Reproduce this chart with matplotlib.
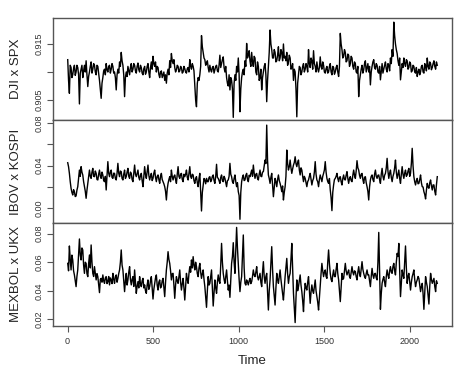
import matplotlib
matplotlib.use("Agg")
import matplotlib.pyplot as plt
import numpy as np

plt.rcParams["font.family"] = ["Liberation Sans", "DejaVu Sans"]

# correlaciones (una cada ~10 dias)
dji_spx = [
    0.9122, 0.9062, 0.9108, 0.9095, 0.9112, 0.9100, 0.9108, 0.9043, 0.9105, 0.9090,
    0.9112, 0.9120, 0.9074, 0.9100, 0.9118, 0.9105, 0.9112, 0.9095, 0.9110, 0.9085,
    0.9053, 0.9090, 0.9105, 0.9115, 0.9100, 0.9112, 0.9105, 0.9110, 0.9100, 0.9068,
    0.9105, 0.9118, 0.9135, 0.9112, 0.9056, 0.9100, 0.9110, 0.9095, 0.9115, 0.9105,
    0.9112, 0.9098, 0.9116, 0.9100, 0.9108, 0.9095, 0.9110, 0.9100, 0.9115, 0.9090,
    0.9118, 0.9128, 0.9110, 0.9100, 0.9108, 0.9090, 0.9102, 0.9095, 0.9085, 0.9080,
    0.9105, 0.9120, 0.9133, 0.9115, 0.9108, 0.9104, 0.9110, 0.9102, 0.9108, 0.9100,
    0.9106, 0.9098, 0.9108, 0.9122, 0.9105, 0.9110, 0.9075, 0.9038, 0.9090, 0.9095,
    0.9165, 0.9135, 0.9122, 0.9115, 0.9108, 0.9112, 0.9100, 0.9110, 0.9104, 0.9112,
    0.9100, 0.9130, 0.9115, 0.9127, 0.9100, 0.9090, 0.9075, 0.9068, 0.9085, 0.9019,
    0.9095, 0.9110, 0.9125, 0.9029, 0.9090, 0.9105, 0.9120, 0.9151, 0.9130, 0.9120,
    0.9135, 0.9110, 0.9125, 0.9095, 0.9110, 0.9090, 0.9068, 0.9100, 0.9115, 0.9047,
    0.9110, 0.9175, 0.9140, 0.9125, 0.9135, 0.9120, 0.9145, 0.9125, 0.9135, 0.9150,
    0.9128, 0.9135, 0.9118, 0.9125, 0.9108, 0.9085, 0.9100, 0.9020, 0.9095, 0.9108,
    0.9100, 0.9115, 0.9105, 0.9110, 0.9140, 0.9108, 0.9120, 0.9138, 0.9110, 0.9118,
    0.9100, 0.9127, 0.9105, 0.9112, 0.9098, 0.9110, 0.9100, 0.9115, 0.9095, 0.9108,
    0.9100, 0.9112, 0.9092, 0.9169, 0.9140, 0.9128, 0.9135, 0.9120, 0.9130, 0.9115,
    0.9125, 0.9105, 0.9115, 0.9098, 0.9056, 0.9095, 0.9112, 0.9104, 0.9120, 0.9108,
    0.9100, 0.9077, 0.9110, 0.9122, 0.9105, 0.9112, 0.9098, 0.9086, 0.9115, 0.9105,
    0.9118, 0.9100, 0.9112, 0.9125, 0.9140, 0.9189, 0.9150, 0.9133, 0.9112, 0.9086,
    0.9115, 0.9125, 0.9110, 0.9120, 0.9108, 0.9115, 0.9102, 0.9110, 0.9098, 0.9092,
    0.9105, 0.9100, 0.9112, 0.9098, 0.9110, 0.9125, 0.9105, 0.9115, 0.9108, 0.9120,
    0.9105, 0.9112,
]
# valores entre cada par de los anteriores (borde opuesto de la banda de ruido)
dji_spx_medio = [
    0.9085, 0.9112, 0.9090, 0.9106, 0.9094, 0.9112, 0.9095, 0.9098, 0.9112, 0.9102,
    0.9100, 0.9095, 0.9092, 0.9110, 0.9098, 0.9115, 0.9100, 0.9112, 0.9098, 0.9070,
    0.9080, 0.9102, 0.9095, 0.9104, 0.9110, 0.9098, 0.9115, 0.9098, 0.9090, 0.9095,
    0.9098, 0.9110, 0.9120, 0.9095, 0.9090, 0.9092, 0.9102, 0.9108, 0.9100, 0.9115,
    0.9102, 0.9110, 0.9104, 0.9112, 0.9098, 0.9106, 0.9096, 0.9110, 0.9100, 0.9108,
    0.9105, 0.9115, 0.9118, 0.9110, 0.9096, 0.9100, 0.9090, 0.9100, 0.9095, 0.9098,
    0.9095, 0.9108, 0.9120, 0.9122, 0.9100, 0.9112, 0.9100, 0.9110, 0.9098, 0.9110,
    0.9100, 0.9106, 0.9100, 0.9110, 0.9115, 0.9102, 0.9050, 0.9080, 0.9085, 0.9110,
    0.9145, 0.9125, 0.9112, 0.9120, 0.9100, 0.9104, 0.9108, 0.9098, 0.9110, 0.9102,
    0.9112, 0.9108, 0.9122, 0.9108, 0.9110, 0.9080, 0.9095, 0.9090, 0.9070, 0.9080,
    0.9085, 0.9100, 0.9095, 0.9070, 0.9100, 0.9095, 0.9110, 0.9125, 0.9138, 0.9110,
    0.9118, 0.9128, 0.9100, 0.9118, 0.9085, 0.9105, 0.9090, 0.9110, 0.9095, 0.9085,
    0.9135, 0.9150, 0.9125, 0.9140, 0.9118, 0.9130, 0.9120, 0.9140, 0.9120, 0.9125,
    0.9120, 0.9112, 0.9130, 0.9105, 0.9115, 0.9105, 0.9070, 0.9080, 0.9110, 0.9095,
    0.9110, 0.9100, 0.9115, 0.9100, 0.9115, 0.9125, 0.9105, 0.9115, 0.9100, 0.9106,
    0.9108, 0.9110, 0.9118, 0.9100, 0.9106, 0.9098, 0.9110, 0.9100, 0.9110, 0.9096,
    0.9108, 0.9100, 0.9110, 0.9150, 0.9125, 0.9140, 0.9118, 0.9132, 0.9110, 0.9128,
    0.9110, 0.9118, 0.9100, 0.9110, 0.9085, 0.9105, 0.9098, 0.9115, 0.9100, 0.9115,
    0.9110, 0.9100, 0.9118, 0.9108, 0.9115, 0.9100, 0.9110, 0.9100, 0.9098, 0.9112,
    0.9105, 0.9115, 0.9102, 0.9115, 0.9128, 0.9165, 0.9140, 0.9120, 0.9125, 0.9100,
    0.9108, 0.9115, 0.9122, 0.9105, 0.9118, 0.9100, 0.9112, 0.9100, 0.9108, 0.9100,
    0.9095, 0.9110, 0.9100, 0.9115, 0.9102, 0.9110, 0.9118, 0.9104, 0.9115, 0.9110,
    0.9118,
]

ibov_kospi = [
    0.0428, 0.0328, 0.0188, 0.0125, 0.0156, 0.0116, 0.0203, 0.0359, 0.0391, 0.0313,
    0.0203, 0.0094, 0.0234, 0.0359, 0.0281, 0.0375, 0.0297, 0.0328, 0.0266, 0.0359,
    0.0281, 0.0313, 0.0250, 0.0172, 0.0438, 0.0297, 0.0359, 0.0281, 0.0328, 0.0266,
    0.0422, 0.0297, 0.0344, 0.0266, 0.0359, 0.0297, 0.0375, 0.0281, 0.0328, 0.0250,
    0.0406, 0.0297, 0.0359, 0.0266, 0.0328, 0.0203, 0.0391, 0.0281, 0.0406, 0.0266,
    0.0328, 0.0281, 0.0359, 0.0250, 0.0313, 0.0234, 0.0328, 0.0250, 0.0203, 0.0078,
    0.0234, 0.0297, 0.0359, 0.0266, 0.0313, 0.0234, 0.0391, 0.0281, 0.0328, 0.0250,
    0.0297, 0.0359, 0.0266, 0.0391, 0.0281, 0.0313, 0.0234, 0.0297, 0.0203, 0.0328,
    -0.0025, 0.0219, 0.0266, 0.0281, 0.0250, 0.0297, 0.0266, 0.0313, 0.0234, 0.0413,
    0.0281, 0.0234, 0.0313, 0.0250, 0.0281, 0.0203, 0.0266, 0.0422, 0.0297, 0.0234,
    0.0313, 0.0203, 0.0156, -0.0103, 0.0250, 0.0313, 0.0266, 0.0328, 0.0250, 0.0297,
    0.0359, 0.0406, 0.0281, 0.0328, 0.0266, 0.0359, 0.0297, 0.0344, 0.0453, 0.0781,
    0.0313, 0.0234, 0.0328, 0.0109, 0.0281, 0.0203, 0.0313, 0.0234, 0.0156, 0.0078,
    0.0203, 0.0547, 0.0359, 0.0453, 0.0328, 0.0406, 0.0484, 0.0391, 0.0453, 0.0313,
    0.0359, 0.0250, 0.0281, 0.0203, 0.0266, 0.0328, 0.0219, 0.0281, 0.0438, 0.0266,
    0.0203, 0.0313, 0.0250, 0.0328, 0.0438, 0.0281, 0.0234, 0.0172, -0.0022, 0.0219,
    0.0281, 0.0328, 0.0250, 0.0297, 0.0219, 0.0313, 0.0266, 0.0344, 0.0234, 0.0297,
    0.0250, 0.0359, 0.0281, 0.0447, 0.0359, 0.0281, 0.0328, 0.0234, 0.0297, 0.0203,
    0.0078, 0.0266, 0.0313, 0.0250, 0.0359, 0.0281, 0.0313, 0.0234, 0.0375, 0.0266,
    0.0328, 0.0469, 0.0281, 0.0359, 0.0250, 0.0328, 0.0453, 0.0281, 0.0359, 0.0234,
    0.0391, 0.0281, 0.0359, 0.0313, 0.0375, 0.0328, 0.0563, 0.0297, 0.0219, 0.0281,
    0.0234, 0.0313, 0.0203, 0.0156, 0.0088, 0.0234, 0.0188, 0.0266, 0.0172, 0.0219,
    0.0125, 0.0297,
]
ibov_kospi_medio = [
    0.0390, 0.0250, 0.0150, 0.0175, 0.0110, 0.0170, 0.0280, 0.0300, 0.0340, 0.0250,
    0.0160, 0.0170, 0.0290, 0.0300, 0.0340, 0.0300, 0.0350, 0.0270, 0.0320, 0.0300,
    0.0340, 0.0260, 0.0300, 0.0300, 0.0330, 0.0340, 0.0290, 0.0330, 0.0280, 0.0330,
    0.0330, 0.0350, 0.0280, 0.0320, 0.0280, 0.0340, 0.0300, 0.0340, 0.0270, 0.0330,
    0.0320, 0.0330, 0.0290, 0.0310, 0.0260, 0.0300, 0.0320, 0.0340, 0.0310, 0.0300,
    0.0260, 0.0330, 0.0290, 0.0300, 0.0270, 0.0300, 0.0270, 0.0230, 0.0160, 0.0180,
    0.0270, 0.0250, 0.0300, 0.0300, 0.0270, 0.0320, 0.0300, 0.0320, 0.0270, 0.0320,
    0.0320, 0.0290, 0.0330, 0.0300, 0.0320, 0.0260, 0.0280, 0.0240, 0.0280, 0.0150,
    0.0150, 0.0280, 0.0230, 0.0250, 0.0290, 0.0250, 0.0300, 0.0260, 0.0300, 0.0290,
    0.0260, 0.0290, 0.0260, 0.0300, 0.0240, 0.0260, 0.0300, 0.0320, 0.0250, 0.0280,
    0.0250, 0.0240, 0.0120, 0.0150, 0.0290, 0.0260, 0.0310, 0.0270, 0.0310, 0.0330,
    0.0300, 0.0330, 0.0320, 0.0280, 0.0320, 0.0300, 0.0340, 0.0400, 0.0420, 0.0450,
    0.0280, 0.0290, 0.0220, 0.0200, 0.0250, 0.0270, 0.0260, 0.0200, 0.0210, 0.0150,
    0.0300, 0.0420, 0.0390, 0.0380, 0.0370, 0.0430, 0.0420, 0.0430, 0.0360, 0.0380,
    0.0300, 0.0300, 0.0240, 0.0250, 0.0300, 0.0270, 0.0260, 0.0340, 0.0320, 0.0250,
    0.0270, 0.0280, 0.0300, 0.0360, 0.0340, 0.0250, 0.0280, 0.0100, 0.0150, 0.0270,
    0.0300, 0.0280, 0.0290, 0.0250, 0.0280, 0.0270, 0.0310, 0.0280, 0.0280, 0.0260,
    0.0310, 0.0310, 0.0350, 0.0380, 0.0310, 0.0320, 0.0270, 0.0290, 0.0240, 0.0160,
    0.0200, 0.0300, 0.0270, 0.0320, 0.0300, 0.0310, 0.0270, 0.0320, 0.0300, 0.0310,
    0.0380, 0.0350, 0.0330, 0.0290, 0.0300, 0.0380, 0.0340, 0.0320, 0.0280, 0.0320,
    0.0320, 0.0330, 0.0300, 0.0350, 0.0300, 0.0420, 0.0400, 0.0250, 0.0260, 0.0230,
    0.0270, 0.0240, 0.0200, 0.0130, 0.0170, 0.0200, 0.0240, 0.0210, 0.0220, 0.0160,
    0.0220,
]

mexbol_ukx = [
    0.0592, 0.0714, 0.0546, 0.0616, 0.0511, 0.0429, 0.0546, 0.0763, 0.0616, 0.0686,
    0.0522, 0.0592, 0.0499, 0.0651, 0.0721, 0.0522, 0.0569, 0.0476, 0.0499, 0.0387,
    0.0487, 0.0511, 0.0452, 0.0499, 0.0464, 0.0441, 0.0476, 0.0522, 0.0452, 0.0511,
    0.0487, 0.0546, 0.0686, 0.0546, 0.0394, 0.0522, 0.0476, 0.0569, 0.0441, 0.0499,
    0.0546, 0.0382, 0.0464, 0.0499, 0.0429, 0.0487, 0.0441, 0.0382, 0.0476, 0.0429,
    0.0499, 0.0342, 0.0452, 0.0511, 0.0405, 0.0476, 0.0429, 0.0487, 0.0359, 0.0546,
    0.0674, 0.0592, 0.0476, 0.0522, 0.0347, 0.0499, 0.0452, 0.0546, 0.0405, 0.0487,
    0.0335, 0.0522, 0.0452, 0.0569, 0.0616, 0.0639, 0.0546, 0.0569, 0.0499, 0.0592,
    0.0487, 0.0546, 0.0429, 0.0284, 0.0499, 0.0452, 0.0546, 0.0293, 0.0476, 0.0382,
    0.0511, 0.0452, 0.0732, 0.0522, 0.0452, 0.0546, 0.0405, 0.0354, 0.0592, 0.0737,
    0.0522, 0.0844, 0.0592, 0.0394, 0.0499, 0.0791, 0.0452, 0.0476, 0.0441, 0.0487,
    0.0464, 0.0546, 0.0499, 0.0569, 0.0476, 0.0522, 0.0429, 0.0604, 0.0452, 0.0522,
    0.0265, 0.0476, 0.0709, 0.0429, 0.0300, 0.0522, 0.0452, 0.0546, 0.0429, 0.0335,
    0.0499, 0.0627, 0.0452, 0.0522, 0.0732, 0.0382, 0.0177, 0.0476, 0.0429, 0.0511,
    0.0394, 0.0254, 0.0452, 0.0405, 0.0499, 0.0312, 0.0441, 0.0382, 0.0476, 0.0359,
    0.0265, 0.0429, 0.0592, 0.0499, 0.0546, 0.0487, 0.0686, 0.0522, 0.0464, 0.0546,
    0.0499, 0.0592, 0.0476, 0.0324, 0.0522, 0.0487, 0.0592, 0.0511, 0.0546, 0.0487,
    0.0569, 0.0511, 0.0534, 0.0476, 0.0569, 0.0499, 0.0604, 0.0522, 0.0487, 0.0546,
    0.0511, 0.0429, 0.0557, 0.0487, 0.0522, 0.0476, 0.0809, 0.0270, 0.0452, 0.0499,
    0.0429, 0.0546, 0.0487, 0.0569, 0.0522, 0.0592, 0.0511, 0.0662, 0.0732, 0.0359,
    0.0546, 0.0487, 0.0714, 0.0452, 0.0522, 0.0405, 0.0499, 0.0546, 0.0429, 0.0476,
    0.0487, 0.0394, 0.0452, 0.0270, 0.0499, 0.0429, 0.0307, 0.0522, 0.0452, 0.0487,
    0.0394, 0.0452,
]
mexbol_ukx_medio = [
    0.0540, 0.0620, 0.0650, 0.0540, 0.0470, 0.0500, 0.0650, 0.0650, 0.0700, 0.0580,
    0.0600, 0.0520, 0.0590, 0.0560, 0.0600, 0.0500, 0.0520, 0.0520, 0.0440, 0.0480,
    0.0460, 0.0470, 0.0490, 0.0450, 0.0500, 0.0490, 0.0450, 0.0480, 0.0500, 0.0460,
    0.0520, 0.0600, 0.0580, 0.0470, 0.0470, 0.0440, 0.0530, 0.0480, 0.0480, 0.0430,
    0.0460, 0.0430, 0.0420, 0.0450, 0.0470, 0.0420, 0.0400, 0.0440, 0.0410, 0.0470,
    0.0420, 0.0410, 0.0490, 0.0440, 0.0460, 0.0420, 0.0470, 0.0420, 0.0460, 0.0600,
    0.0620, 0.0540, 0.0520, 0.0440, 0.0440, 0.0470, 0.0500, 0.0460, 0.0450, 0.0420,
    0.0430, 0.0480, 0.0520, 0.0530, 0.0560, 0.0580, 0.0600, 0.0520, 0.0560, 0.0530,
    0.0520, 0.0480, 0.0360, 0.0400, 0.0440, 0.0500, 0.0420, 0.0380, 0.0420, 0.0460,
    0.0470, 0.0580, 0.0600, 0.0480, 0.0500, 0.0470, 0.0440, 0.0470, 0.0640, 0.0600,
    0.0680, 0.0700, 0.0480, 0.0460, 0.0650, 0.0560, 0.0440, 0.0460, 0.0470, 0.0450,
    0.0500, 0.0510, 0.0530, 0.0500, 0.0500, 0.0460, 0.0530, 0.0500, 0.0500, 0.0400,
    0.0400, 0.0600, 0.0550, 0.0360, 0.0420, 0.0480, 0.0500, 0.0480, 0.0380, 0.0420,
    0.0560, 0.0520, 0.0500, 0.0620, 0.0550, 0.0280, 0.0350, 0.0400, 0.0470, 0.0440,
    0.0330, 0.0380, 0.0420, 0.0460, 0.0400, 0.0390, 0.0400, 0.0430, 0.0400, 0.0320,
    0.0350, 0.0520, 0.0540, 0.0530, 0.0500, 0.0600, 0.0590, 0.0480, 0.0510, 0.0500,
    0.0550, 0.0520, 0.0400, 0.0430, 0.0480, 0.0540, 0.0540, 0.0530, 0.0500, 0.0530,
    0.0530, 0.0540, 0.0500, 0.0530, 0.0520, 0.0550, 0.0550, 0.0500, 0.0520, 0.0510,
    0.0470, 0.0500, 0.0510, 0.0520, 0.0490, 0.0600, 0.0550, 0.0380, 0.0480, 0.0460,
    0.0500, 0.0510, 0.0540, 0.0530, 0.0570, 0.0540, 0.0600, 0.0640, 0.0550, 0.0450,
    0.0510, 0.0600, 0.0560, 0.0500, 0.0460, 0.0460, 0.0520, 0.0480, 0.0460, 0.0500,
    0.0440, 0.0430, 0.0380, 0.0390, 0.0460, 0.0370, 0.0430, 0.0480, 0.0470, 0.0430,
    0.0470,
]

nombres = ["DJI x SPX", "IBOV x KOSPI", "MEXBOL x UKX"]
ticks_y = [[0.905, 0.910, 0.915],
           [0.00, 0.02, 0.04, 0.06, 0.08],
           [0.02, 0.04, 0.06, 0.08]]
etiquetas_y = [["0.905", "", "0.915"],
               ["0.00", "", "0.04", "", "0.08"],
               ["0.02", "0.04", "0.06", "0.08"]]
limites_y = [(0.90143, 0.91964), (-0.0138, 0.0829), (0.0153, 0.0875)]
ticks_x = [0, 500, 1000, 1500, 2000]
n_dias = 2160


def intercalar(principal, medio):
    serie = np.empty(len(principal) + len(medio))
    serie[0::2] = principal
    serie[1::2] = medio
    return serie


gris = "#555555"
fig = plt.figure(figsize=(4.74, 3.89), dpi=100)

# cajas de los paneles en pixeles (izq, arriba, der, abajo)
cajas = [(53, 18, 452, 120), (53, 120, 452, 223), (53, 223, 452, 326)]
series = [intercalar(dji_spx, dji_spx_medio),
          intercalar(ibov_kospi, ibov_kospi_medio),
          intercalar(mexbol_ukx, mexbol_ukx_medio)]

for i in range(3):
    x0, y0, x1, y1 = cajas[i]
    ax = fig.add_axes([x0 / 474, 1 - y1 / 389, (x1 - x0) / 474, (y1 - y0) / 389])
    datos = series[i]
    t = np.linspace(1, n_dias, len(datos))
    ax.plot(t, datos, color="black", linewidth=1.0)
    ax.set_xlim(-85, 2246)
    ax.set_ylim(limites_y[i])
    ax.set_yticks(ticks_y[i])
    ax.set_yticklabels(etiquetas_y[i], rotation=90, va="center", ha="right")
    ax.tick_params(axis="y", length=4, width=0.8, color=gris, labelcolor="#333333",
                   labelsize=6.5, pad=3)
    for s in ax.spines.values():
        s.set_color(gris)
        s.set_linewidth(1.0)
    ax.set_ylabel(nombres[i], fontsize=9.5, color="#222222")
    ax.yaxis.set_label_coords(-0.078, 0.5)
    if i < 2:
        ax.set_xticks([])
    else:
        ax.set_xticks(ticks_x)
        ax.set_xticklabels([str(v) for v in ticks_x])
        ax.tick_params(axis="x", length=4, width=0.8, color=gris, labelcolor="#333333",
                       labelsize=6.5, pad=4)
        ax.set_xlabel("Time", fontsize=9.5, color="#222222")
        ax.xaxis.set_label_coords(0.499, -0.282)

plt.savefig("out.png", dpi=100)
